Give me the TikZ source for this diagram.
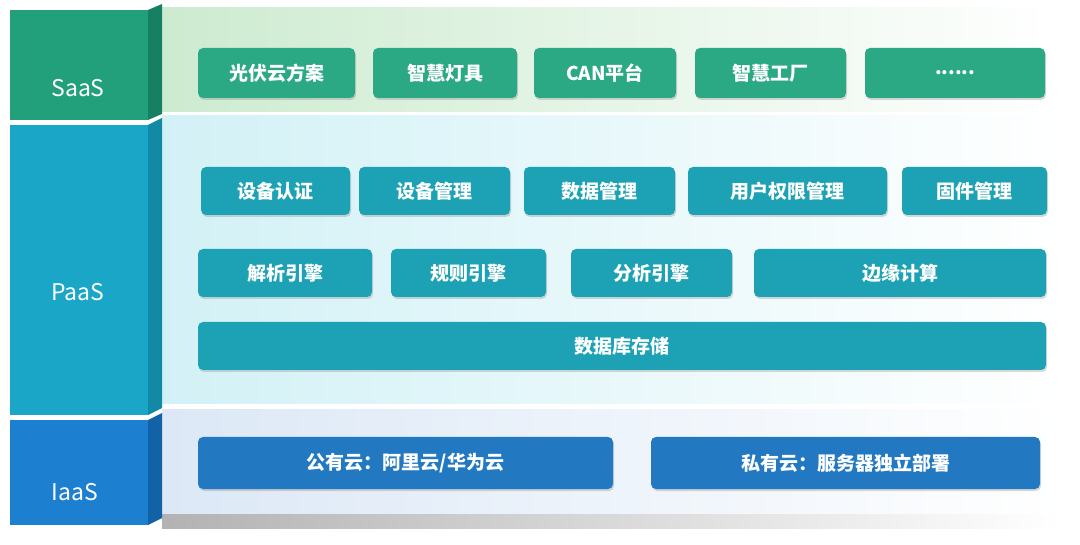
\documentclass[tikz,border=0pt]{standalone}
\usepackage{fontspec}
\newfontfamily\cjk{Noto Sans CJK SC}
\usetikzlibrary{shadows}
\begin{document}
\begin{tikzpicture}[x=1pt,y=-1pt,
  box/.style={rounded corners=5pt,text=white,font=\cjk\bfseries\fontsize{19}{22}\selectfont,drop shadow={shadow xshift=1pt,shadow yshift=-2pt,opacity=0.3}},
  lbl/.style={text=white,font=\cjk\fontsize{23}{26}\selectfont}]
\useasboundingbox (0,0) rectangle (1080,545);
\definecolor{sg}{HTML}{22A07C}\definecolor{sgd}{HTML}{178062}
\definecolor{pt}{HTML}{1AA6C6}\definecolor{ptd}{HTML}{128AA6}
\definecolor{ib}{HTML}{1C7FCF}\definecolor{ibd}{HTML}{1262A8}
\definecolor{bs}{HTML}{2BA985}\definecolor{bp}{HTML}{1CA2B4}\definecolor{bi}{HTML}{2279C2}
\definecolor{ps}{HTML}{CDEBD0}\definecolor{pp}{HTML}{D2F1F6}\definecolor{pi}{HTML}{DCE8F6}
% panels
\fill[left color=ps, right color=white] (162,8) rectangle (1060,112);
\fill[left color=pp, right color=white] (162,116) rectangle (1060,404);
\fill[left color=pi, right color=white] (162,410) rectangle (1060,514);
\fill[left color=gray!60, right color=white] (162,514) rectangle (1060,528);
% left blocks
\fill[sg] (10,10) rectangle (148,120);
\fill[sgd] (148,10) -- (162,4) -- (162,114) -- (148,120) -- cycle;
\fill[pt] (10,125) rectangle (148,415);
\fill[ptd] (148,125) -- (162,118) -- (162,408) -- (148,415) -- cycle;
\fill[ib] (10,420) rectangle (148,525);
\fill[ibd] (148,420) -- (162,413) -- (162,518) -- (148,525) -- cycle;
\node[lbl] (saas) at (78,88) {SaaS};
\node[lbl] (paas) at (78,292) {PaaS};
\node[lbl] (iaas) at (75,492) {IaaS};
% SaaS boxes
\foreach \a/\b/\t [count=\i] in {198/355/光伏云方案,373/517/智慧灯具,534/676/CAN平台,695/846/智慧工厂}
  \node[box,fill=bs,minimum width={(\b-\a)*1pt},minimum height=50pt] (s\i) at ({(\a+\b)/2},73) {\t};
\node[box,fill=bs,minimum width=180pt,minimum height=50pt] (s5) at (955,73) {......};
\foreach \a/\b/\t [count=\i] in {201/350/设备认证,359/510/设备管理,524/675/数据管理,688/887/用户权限管理,902/1047/固件管理}
  \node[box,fill=bp,minimum width={(\b-\a)*1pt},minimum height=48pt] (p\i) at ({(\a+\b)/2},191) {\t};
\foreach \a/\b/\t [count=\i] in {198/372/解析引擎,391/546/规则引擎,571/732/分析引擎,754/1046/边缘计算}
  \node[box,fill=bp,minimum width={(\b-\a)*1pt},minimum height=48pt] (q\i) at ({(\a+\b)/2},273) {\t};
\node[box,fill=bp,minimum width=848pt,minimum height=48pt] (db) at (622,346) {数据库存储};
\node[box,fill=bi,minimum width=415pt,minimum height=52pt] (i1) at (405.5,463) {公有云：阿里云/华为云};
\node[box,fill=bi,minimum width=389pt,minimum height=52pt] (i2) at (845.5,463) {私有云：服务器独立部署};
\end{tikzpicture}
\end{document}
